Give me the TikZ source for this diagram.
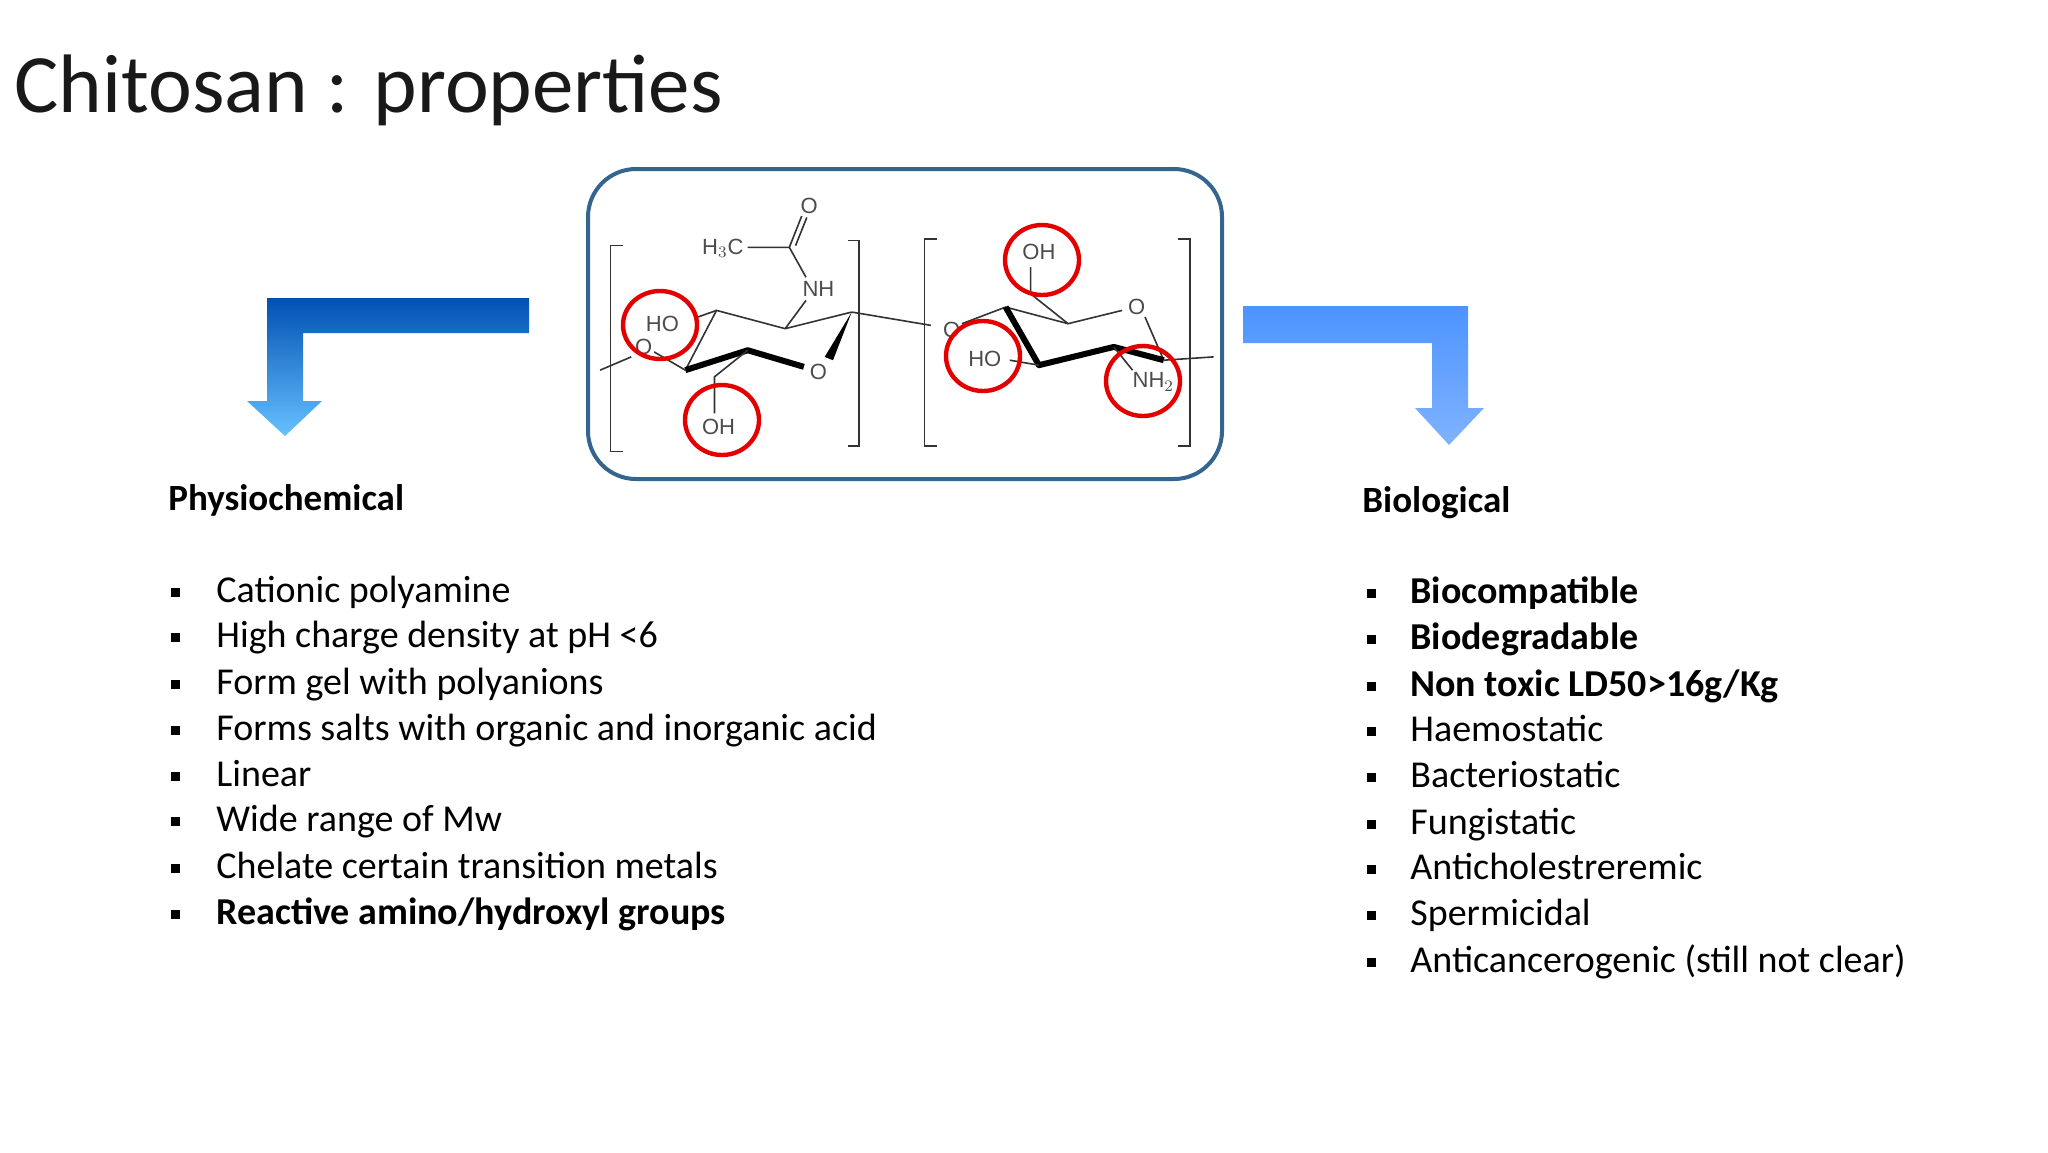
\documentclass[tikz,border=0pt]{standalone}
\usepackage{fontspec}
\setmainfont{Carlito}
\newfontfamily\molf{Liberation Sans}
\begin{document}
\begin{tikzpicture}[x=0.5pt,y=-0.5pt,
  item/.style={anchor=base west,inner sep=0,font=\fontsize{19}{22}\selectfont},
  head/.style={anchor=base west,inner sep=0,font=\fontsize{18.5}{22}\selectfont\bfseries},
  bul/.style={fill=black,inner sep=0,minimum size=4.5pt},
  bond/.style={line width=0.8pt,draw=black!80},
  bold/.style={line width=3pt,draw=black,line join=round},
  atom/.style={font=\molf\fontsize{11}{12}\selectfont,text=black!70,inner sep=1pt,fill=white},
  ring/.style={draw=red!90!black,line width=2.2pt}]
\useasboundingbox (0,0) rectangle (2048,1152);
\fill[white] (0,0) rectangle (2048,1152);
\node[anchor=base west,inner sep=0,font=\fontsize{41.5}{48}\selectfont,text=black!90] (title) at (14,112) {Chitosan : properties};
% arrows
\shade[top color=blue!55!cyan!70!black,bottom color=blue!40!cyan!60]
 (529,298)--(267,298)--(267,401)--(247,401)--(285,436)--(322,401)--(303,401)--(303,333)--(529,333)--cycle;
\shade[top color=cyan!40!blue!70,bottom color=cyan!40!blue!50]
 (1243,306)--(1468,306)--(1468,408)--(1484,408)--(1449,445)--(1415,408)--(1432,408)--(1432,343)--(1243,343)--cycle;
% box
\draw[draw=blue!45!cyan!45!black!80,line width=2pt,rounded corners=24pt] (588,169) rectangle (1222,479);
% molecule
\begin{scope}[shift={(573,161)},xscale=0.416,yscale=0.332]
 \draw[bond] (120,255)--(90,255)--(90,875)--(120,875);
 \draw[bond] (660,240)--(688,240)--(688,858)--(660,858);
 \draw[bond] (875,235)--(845,235)--(845,858)--(875,858);
 \draw[bond] (1455,235)--(1483,235)--(1483,858)--(1455,858);
 \coordinate (A) at (270,630); \coordinate (B) at (345,450); \coordinate (C) at (510,505);
 \coordinate (D) at (670,455); \coordinate (E) at (590,630); \coordinate (F) at (420,570);
 \draw[bond] (A)--(B)--(C)--(D);
 \fill (D)--(625,600)--(605,590)--cycle;
 \draw[bold] (A)--(F)--(555,620);
 \draw[bond] (65,630)--(140,590); \draw[bond] (195,575)--(A);
 \node[atom] (O1) at (170,560) {O};
 \node[atom] (Or1) at (590,635) {O};
 \draw[bond] (B)--(300,470); \node[atom] (HO1) at (215,490) {HO};
 \draw[bond] (C)--(560,420); \node[atom] (NH) at (590,385) {NH};
 \draw[bond] (560,350)--(520,260)--(420,260); \node[atom] (H3C) at (360,262) {H$_3$C};
 \draw[bond] (520,260)--(550,165); \draw[bond] (535,255)--(562,170); \node[atom] (Oc) at (568,135) {O};
 \draw[bond] (F)--(340,650)--(340,760); \node[atom] (OH1) at (350,800) {OH};
 \draw[bond] (D)--(860,495);
 \node[atom] (O2) at (910,510) {O};
 \coordinate (G) at (1040,440); \coordinate (H) at (1190,490); \coordinate (I) at (1420,600);
 \coordinate (J) at (1300,560); \coordinate (K) at (1120,615);
 \draw[bond] (935,490)--(G)--(H)--(1320,450);
 \node[atom] (Or2) at (1355,440) {O};
 \draw[bond] (1375,470)--(I);
 \draw[bold] (I)--(J)--(K)--(G);
 \draw[bond] (I)--(1540,590);
 \draw[bond] (H)--(1100,400)--(1100,320); \node[atom] (OH2) at (1120,275) {OH};
 \draw[bond] (K)--(1050,600); \node[atom] (HO2) at (990,595) {HO};
 \draw[bond] (J)--(1345,630); \node[atom] (NH2) at (1395,665) {NH$_2$};
\end{scope}
% red circles
\draw[ring] (660,325) ellipse (37 and 34);
\draw[ring] (722,420) ellipse (37 and 35);
\draw[ring] (1042,260) ellipse (37 and 35);
\draw[ring] (983,356) ellipse (37 and 35);
\draw[ring] (1143,381) ellipse (37 and 35);
% left list
\node[head] (h1) at (168,510) {Physiochemical};
\foreach \y/\t [count=\i] in {602/Cationic polyamine,647/High charge density at pH <6,694/Form gel with polyanions,740/Forms salts with organic and inorganic acid,786/Linear,831/Wide range of Mw,878/Chelate certain transition metals,924/\textbf{Reactive amino/hydroxyl groups}}{
  \node[bul] (lb\i) at (175,\y-10) {};
  \node[item] (lt\i) at (216,\y) {\t};
}
% right list
\node[head] (h2) at (1362,512) {Biological};
\foreach \y/\t [count=\i] in {603/\textbf{Biocompatible},649/\textbf{Biodegradable},696/\textbf{Non toxic LD50>16g/Kg},741/Haemostatic,787/Bacteriostatic,834/Fungistatic,879/Anticholestreremic,925/Spermicidal,972/Anticancerogenic (still not clear)}{
  \node[bul] (rb\i) at (1371,\y-10) {};
  \node[item] (rt\i) at (1410,\y) {\t};
}
\end{tikzpicture}
\end{document}
